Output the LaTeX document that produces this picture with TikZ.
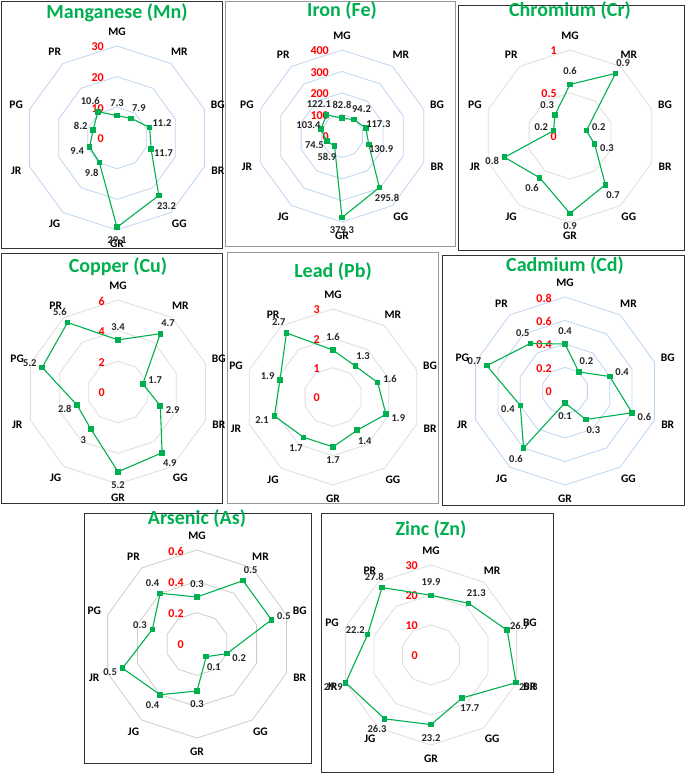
\documentclass[tikz,border=0pt]{standalone}
\usepackage{fontspec}
\setmainfont{Carlito}
\usetikzlibrary{calc}
\definecolor{lgreen}{RGB}{0,176,80}
\definecolor{gblue}{RGB}{190,213,238}
\definecolor{ggrey}{RGB}{222,222,222}
\definecolor{ggrey2}{RGB}{205,205,205}
\tikzset{
  panel/.style={draw=#1,line width=0.9pt},
  ttl/.style={text=lgreen,font=\bfseries\fontsize{20}{22}\selectfont},
  axl/.style={font=\bfseries\fontsize{11.5}{12}\selectfont,text=black},
  vall/.style={font=\bfseries\fontsize{10.5}{11}\selectfont,text=black!85,inner sep=0pt},
  tick/.style={font=\bfseries\fontsize{12}{12}\selectfont,text=red,anchor=east,inner sep=0pt},
  dline/.style={draw=lgreen,line width=1.1pt},
  mk/.style={fill=lgreen}
}
% #1 cx, #2 cy, #3 R, #4 max, #5 rings, #6 gridcolor, #7 data, #8 ticks, #9 title
\newcommand\radarchart[9]{%
\begin{scope}[shift={(#1,#2)}]
  \foreach \k in {1,...,#5}{
    \pgfmathsetmacro\rr{#3*\k/#5}
    \draw[#6,line width=0.8pt] (-90:\rr) \foreach \i in {1,...,9}{ -- (\i*36-90:\rr)} -- cycle;
  }
  \foreach \lab [count=\i from 0] in {MG,MR,BG,BR,GG,GR,JG,JR,PG,PR}
    \node[axl] (ax\i) at (\i*36-90:#3+14) {\lab};
  \foreach \t [count=\k from 0] in {#8}
    \node[tick] (tk\k) at (-13,{-#3*\k/#5+1}) {\t};
  \foreach \v [count=\i from 0] in {#7}{
    \pgfmathsetmacro\pr{#3*(\v/#4)}
    \coordinate (p\i) at (\i*36-90:\pr);
  }
  \draw[dline] (p0) -- (p1) -- (p2) -- (p3) -- (p4) -- (p5) -- (p6) -- (p7) -- (p8) -- (p9) -- cycle;
  \foreach \v [count=\i from 0] in {#7}{
    \fill[mk] ($(p\i)+(-2.8,-2.8)$) rectangle ($(p\i)+(2.8,2.8)$);
    \node[vall] (v\i) at ($(p\i)+(\i*36-90:13)$) {\v};
  }
  \node[ttl] (title) at (0,-125) {#9};
\end{scope}}
\begin{document}
\begin{tikzpicture}[x=1pt,y=-1pt]
\useasboundingbox[fill=white] (0,0) rectangle (685,773);
% panels
\draw[panel=black!80] (1,1) rectangle (222,248);
\draw[panel=black!40] (225,1) rectangle (455,246);
\draw[panel=black!80] (458,5) rectangle (684,250);
\draw[panel=black!80] (1,253) rectangle (222,503);
\draw[panel=black!40] (227,252) rectangle (438,503);
\draw[panel=black!80] (442,255) rectangle (684,505);
\draw[panel=black!80] (84,513) rectangle (311,763);
\draw[panel=black!80] (321,513) rectangle (553,772);
\radarchart{117}{138}{92}{30}{3}{gblue}{7.3,7.9,11.2,11.7,23.2,29.1,9.8,9.4,8.2,10.6}{0,10,20,30}{Manganese (Mn)}
\radarchart{342}{136}{86}{400}{4}{gblue}{82.8,94.2,117.3,130.9,295.8,379.3,58.9,74.5,103.4,122.1}{0,100,200,300,400}{Iron (Fe)}
\radarchart{570}{136}{86}{1}{2}{ggrey}{0.6,0.9,0.2,0.3,0.7,0.9,0.6,0.8,0.2,0.3}{0,0.5,1}{Chromium (Cr)}
\radarchart{118}{392}{92}{6}{3}{ggrey}{3.4,4.7,1.7,2.9,4.9,5.2,3,2.8,5.2,5.6}{0,2,4,6}{Copper (Cu)}
\radarchart{333}{397}{88}{3}{3}{ggrey}{1.6,1.3,1.6,1.9,1.4,1.7,1.7,2.1,1.9,2.7}{0,1,2,3}{Lead (Pb)}
\radarchart{565}{391}{94}{0.8}{4}{gblue}{0.4,0.2,0.4,0.6,0.3,0.1,0.6,0.4,0.7,0.5}{0,0.2,0.4,0.6,0.8}{Cadmium (Cd)}
\radarchart{197}{644}{94}{0.6}{3}{ggrey2}{0.3,0.5,0.5,0.2,0.1,0.3,0.4,0.5,0.3,0.4}{0,0.2,0.4,0.6}{Arsenic (As)}
\radarchart{431}{655}{90}{30}{3}{ggrey}{19.9,21.3,26.7,29.8,17.7,23.2,26.3,29.9,22.2,27.8}{0,10,20,30}{Zinc (Zn)}
\end{tikzpicture}
\end{document}
